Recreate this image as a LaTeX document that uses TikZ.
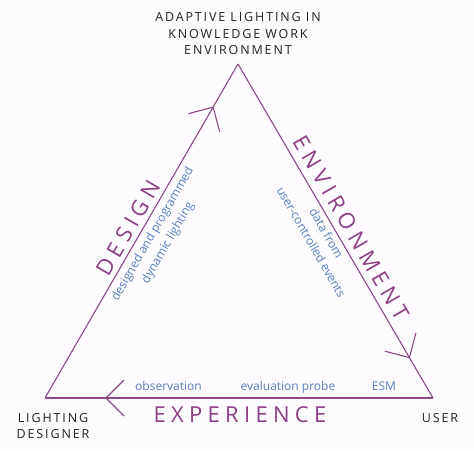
\documentclass[tikz,border=0pt]{standalone}
\usepackage{fontspec}
\setmainfont{Open Sans}
\newfontfamily\capsfont[LetterSpace=15]{Open Sans}
\newfontfamily\bigfont[LetterSpace=24]{Open Sans}
\usetikzlibrary{decorations.markings}
\definecolor{bgc}{RGB}{253,251,253}
\definecolor{purp}{RGB}{142,62,134}
\definecolor{linep}{RGB}{140,72,137}
\definecolor{bluet}{RGB}{88,127,190}
\definecolor{darkt}{RGB}{35,35,35}
\tikzset{
  edge/.style={draw=linep, line width=1.1pt},
  wingat/.style={postaction={decorate, decoration={markings,
     mark=at position #1 with {\draw[linep, line width=1.1pt] (-18pt,18pt) -- (0pt,0pt) -- (-18pt,-18pt);}}}},
  caplabel/.style={font=\capsfont\fontsize{12.5}{16.5}\selectfont, text=darkt, align=center, inner sep=0pt},
  biglabel/.style={font=\bigfont\fontsize{22}{26}\selectfont, text=purp, inner sep=0pt},
  bluelabel/.style={font=\fontsize{12}{17.5}\selectfont, text=bluet, align=center, inner sep=0pt},
}
\begin{document}
\begin{tikzpicture}[x=1pt,y=-1pt]
\fill[bgc] (0,0) rectangle (474,450);
\useasboundingbox (0,0) rectangle (474,450);
\coordinate (A) at (238,64);
\coordinate (L) at (45,398);
\coordinate (R) at (433,398);
\path[edge, wingat=336pt] (L) -- (A);
\path[edge, wingat=340pt] (A) -- (R);
\path[edge, wingat=327pt] (R) -- (L);
% title
\node[caplabel, anchor=base] (t1) at (238,21) {ADAPTIVE LIGHTING IN};
\node[caplabel, anchor=base] (t2) at (238,38) {KNOWLEDGE WORK};
\node[caplabel, anchor=base] (t3) at (238,54) {ENVIRONMENT};
\node[caplabel, anchor=base] (ld1) at (53,422) {LIGHTING};
\node[caplabel, anchor=base] (ld2) at (53,438) {DESIGNER};
\node[caplabel, anchor=base] (user) at (440,422) {USER};
% side labels
\node[biglabel, anchor=base] (exp) at (240,422) {EXPERIENCE};
\node[biglabel, rotate=60] (des) at (128,228) {DESIGN};
\node[biglabel, rotate=-60] (env) at (351,228) {ENVIRONMENT};
% blue labels
\node[bluelabel, anchor=base] (obs) at (168.5,390) {observation};
\node[bluelabel, anchor=base] (evp) at (288,390) {evaluation probe};
\node[bluelabel, anchor=base] (esm) at (384,390) {ESM};
\node[bluelabel, rotate=60] (dpl) at (160.5,238.5) {designed and programmed\\dynamic lighting};
\node[bluelabel, rotate=-60] (dfu) at (319,237.5) {data from\\user-controlled events};
\end{tikzpicture}
\end{document}
